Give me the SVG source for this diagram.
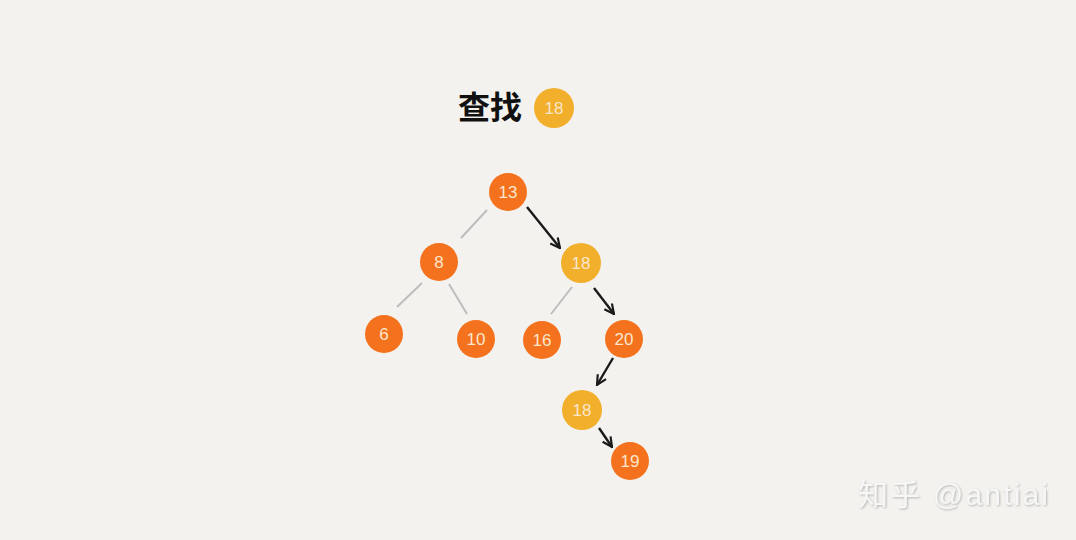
<svg xmlns="http://www.w3.org/2000/svg" width="1076" height="540" viewBox="0 0 1076 540">
<defs>
<style>
.o{fill:#F4721E}
.y{fill:#F1AF2C}
.t{font-family:"Liberation Sans","Noto Sans",sans-serif;font-size:17px;fill:#FBE6CC;text-anchor:middle;dominant-baseline:central}
.g{stroke:#BDBDBD;stroke-width:2;fill:none}
.a{stroke:#1A1A1A;stroke-width:2.4;fill:none;marker-end:url(#ah)}
</style>
<marker id="ah" viewBox="0 0 10 10" refX="9" refY="5" markerWidth="5" markerHeight="5" orient="auto" markerUnits="strokeWidth">
<path d="M1,1 L9,5 L1,9" fill="none" stroke="#1A1A1A" stroke-width="1.8"/>
</marker>
<filter id="sh" x="-10%" y="-30%" width="120%" height="160%">
<feDropShadow dx="1" dy="1" stdDeviation="0.8" flood-color="#9a9a9a" flood-opacity="0.7"/>
</filter>
</defs>
<rect width="1076" height="540" fill="#F4F2EE"/>
<g id="title">
<text x="490" y="119" font-family="'Noto Sans CJK SC',sans-serif" font-size="32" font-weight="bold" fill="#111" text-anchor="middle">查找</text>
<circle cx="554" cy="108" r="20" class="y"/>
<text x="554" y="108" class="t">18</text>
</g>
<g id="connectors">
<line class="g" x1="487" y1="210" x2="461" y2="238"/>
<line class="a" x1="527" y1="207" x2="560" y2="248"/>
<line class="g" x1="422" y1="283" x2="397" y2="307"/>
<line class="g" x1="449" y1="284" x2="467" y2="314"/>
<line class="g" x1="572" y1="287" x2="551" y2="314"/>
<line class="a" x1="594" y1="288" x2="614" y2="314"/>
<line class="a" x1="613" y1="358" x2="597" y2="385"/>
<line class="a" x1="599" y1="428" x2="612" y2="447"/>
</g>
<g id="n13"><circle cx="508" cy="192" r="19" class="o"/><text x="508" y="192" class="t">13</text></g>
<g id="n8"><circle cx="439" cy="262" r="19" class="o"/><text x="439" y="262" class="t">8</text></g>
<g id="n18a"><circle cx="581" cy="263" r="20" class="y"/><text x="581" y="263" class="t">18</text></g>
<g id="n6"><circle cx="384" cy="334" r="19" class="o"/><text x="384" y="334" class="t">6</text></g>
<g id="n10"><circle cx="476" cy="339" r="19" class="o"/><text x="476" y="339" class="t">10</text></g>
<g id="n16"><circle cx="542" cy="340" r="19" class="o"/><text x="542" y="340" class="t">16</text></g>
<g id="n20"><circle cx="624" cy="339" r="19" class="o"/><text x="624" y="339" class="t">20</text></g>
<g id="n18b"><circle cx="582" cy="410" r="20" class="y"/><text x="582" y="410" class="t">18</text></g>
<g id="n19"><circle cx="630" cy="461" r="19" class="o"/><text x="630" y="461" class="t">19</text></g>
<text x="858" y="505" font-family="'Liberation Sans','Noto Sans CJK SC',sans-serif" font-size="30" fill="#F7F7F7" filter="url(#sh)" textLength="190" lengthAdjust="spacing">知乎 @antiai</text>
</svg>
